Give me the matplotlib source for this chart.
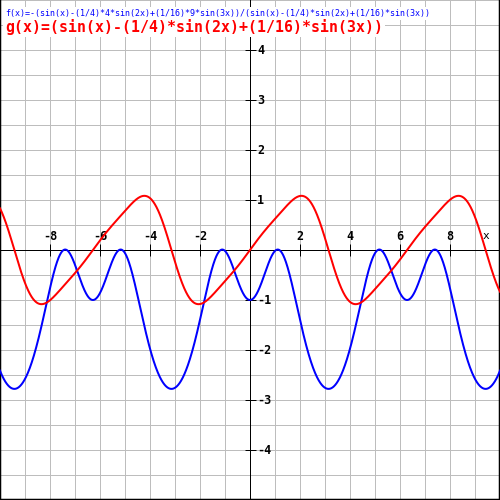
import numpy as np
import matplotlib
matplotlib.use("Agg")
import matplotlib.pyplot as plt

# Data (formula coefficients printed in the title)
g_coef = [1.0, -1.0 / 4, 1.0 / 16]      # g(x) = sum c_k sin(k x)
harmonics = [1, 2, 3]
f_scale = [1, 4, 9]                       # f numerator uses c_k * k^2, negated
x_range = [-10, 10]
y_range = [-5, 5]
x_tick_vals = [-8, -6, -4, -2, 2, 4, 6, 8]
y_tick_vals = [-4, -3, -2, -1, 1, 2, 3, 4]
title_f = "f(x)=-(sin(x)-(1/4)*4*sin(2x)+(1/16)*9*sin(3x))/(sin(x)-(1/4)*sin(2x)+(1/16)*sin(3x))"
title_g = "g(x)=(sin(x)-(1/4)*sin(2x)+(1/16)*sin(3x))"

W = H = 500
DPI = 100
fig = plt.figure(figsize=(W / DPI, H / DPI), dpi=DPI)
ax = fig.add_axes([0, 0, 1, 1])
ax.set_xlim(*x_range)
ax.set_ylim(*y_range)

px = 72.0 / DPI  # points per pixel

# grid
for gx in np.arange(x_range[0], x_range[1] + 1, 1):
    ax.axvline(gx, color="#bdbdbd", lw=1 * px, zorder=0)
for gy in np.arange(y_range[0], y_range[1] + 0.5, 0.5):
    ax.axhline(gy, color="#bdbdbd", lw=1 * px, zorder=0)

# axes lines
ax.axhline(0, color="black", lw=1 * px, zorder=1)
ax.axvline(0, color="black", lw=1 * px, zorder=1)

# ticks
ax.plot(x_tick_vals, [0] * len(x_tick_vals), ls="none", marker="|",
        ms=12 * px, mew=1 * px, color="black", zorder=2)
ax.plot([0] * len(y_tick_vals), y_tick_vals, ls="none", marker="_",
        ms=11 * px, mew=1 * px, color="black", zorder=2)

tick_font = dict(family="DejaVu Sans Mono", fontsize=8.5, fontweight="bold",
                 color="black", zorder=3)
for v in x_tick_vals:
    ax.annotate(f"{v}".replace("-", "-"), (v, 0), xytext=(0, 7 * px),
                textcoords="offset points", ha="center", va="bottom", **tick_font)
for v in y_tick_vals:
    ax.annotate(f"{v}", (0, v), xytext=(7 * px, 0),
                textcoords="offset points", ha="left", va="center", **tick_font)
ax.annotate("x", (x_range[1], 0), xytext=(-14 * px, 9 * px),
            textcoords="offset points", ha="center", va="bottom",
            family="DejaVu Sans Mono", fontsize=8, color="black", zorder=3)

# curves
xs = np.linspace(x_range[0], x_range[1], 4000)
g = sum(c * np.sin(k * xs) for c, k in zip(g_coef, harmonics))
gpp = -sum(c * s * np.sin(k * xs) for c, s, k in zip(g_coef, f_scale, harmonics))
f = gpp / g
ax.plot(xs, f, color="#0000ff", lw=2 * px, zorder=4)
ax.plot(xs, g, color="#ff0000", lw=2 * px, zorder=5)

# frame
for side in ["left", "bottom", "right"]:
    ax.spines[side].set_linewidth(2.5 * px)
    ax.spines[side].set_color("black")
ax.spines["top"].set_visible(False)
ax.set_xticks([])
ax.set_yticks([])

# titles
fig.text(5 / W, 1 - 16 / H, title_f, family="DejaVu Sans Mono", fontsize=6,
         color="#0000ff", ha="left", va="baseline", zorder=10,
         bbox=dict(facecolor="white", edgecolor="none", pad=1.5))
fig.text(5 / W, 1 - 32 / H, title_g, family="DejaVu Sans Mono", fontsize=10.7,
         fontweight="bold", color="#ff0000", ha="left", va="baseline", zorder=10,
         bbox=dict(facecolor="white", edgecolor="none", pad=1.5))

fig.savefig("out.png", dpi=DPI)
